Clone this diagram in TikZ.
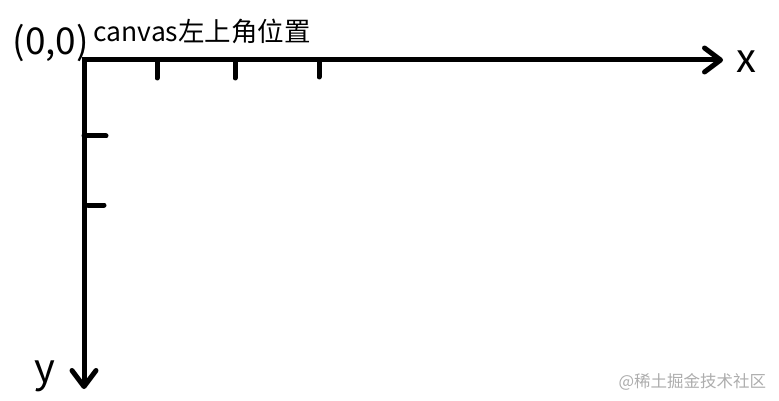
\documentclass[tikz,border=0pt]{standalone}
\usepackage{fontspec}
\setmainfont{Noto Sans CJK SC}
\usetikzlibrary{arrows.meta}
\begin{document}
\begin{tikzpicture}[x=1pt,y=-1pt,line width=5pt,
  barb/.tip={Straight Barb[length=16pt,width=24pt,round]},
  lbl/.style={inner sep=0pt,anchor=base west}]
\useasboundingbox (0,0) rectangle (779,401);

\coordinate (o) at (84,60);
\coordinate (xend) at (723,60);
\coordinate (yend) at (84,389);

% axes
\draw[barb-barb] (xend) -- (o) -- (yend);

% ticks
\draw[line cap=round] (157,60) -- (157,78);
\draw[line cap=round] (235,60) -- (235,78);
\draw[line cap=round] (319,60) -- (319,77);
\draw[line cap=round] (84,136) -- (106,136);
\draw[line cap=round] (88,205) -- (104,205);

\node[lbl,font=\fontsize{37}{37}\selectfont] (origin) at (10,55) {(0,0)};
\node[lbl,font=\fontsize{26.5}{26.5}\selectfont] (note) at (91,42) {canvas左上角位置};
\node[lbl,font=\fontsize{40}{40}\selectfont] (xlbl) at (734,73) {x};
\node[lbl,font=\fontsize{40}{40}\selectfont] (ylbl) at (32,382) {y};
\node[lbl,font=\fontsize{16.5}{16.5}\selectfont,text=black!32] (mark) at (616,387) {@稀土掘金技术社区};

\end{tikzpicture}
\end{document}
